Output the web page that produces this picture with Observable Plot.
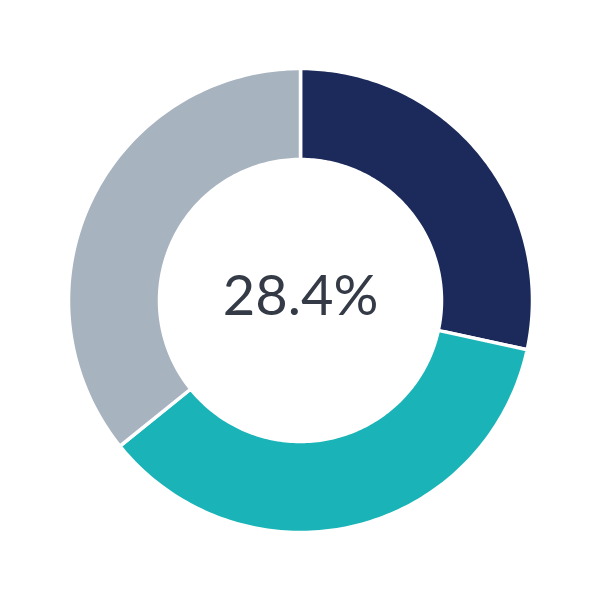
<!DOCTYPE html>
<html>
<head>
<meta charset="utf-8">
<script src="https://cdn.jsdelivr.net/npm/d3@7"></script>
<script src="https://cdn.jsdelivr.net/npm/@observablehq/plot@0.6"></script>
<style>
  html, body { margin: 0; padding: 0; background: #fff; }
</style>
</head>
<body>
<div id="chart"></div>
<script>
const categories = ["A", "B", "C"];
const values = [28.4, 35.8, 35.8];
const colors = ["#1b2a5a", "#1ab4b8", "#a8b3c0"];
const centerLabel = "28.4%";

const outerR = 232, innerR = 141;
const total = d3.sum(values);
const pts = [];
let start = 0;
categories.forEach((c, i) => {
  const a0 = start / total * 2 * Math.PI;
  const a1 = (start + values[i]) / total * 2 * Math.PI;
  start += values[i];
  const n = 120;
  for (let k = 0; k <= n; k++) {
    const a = a0 + (a1 - a0) * k / n;
    pts.push({cat: c, x: outerR * Math.sin(a), y: outerR * Math.cos(a)});
  }
  for (let k = n; k >= 0; k--) {
    const a = a0 + (a1 - a0) * k / n;
    pts.push({cat: c, x: innerR * Math.sin(a), y: innerR * Math.cos(a)});
  }
});

const chart = Plot.plot({
  width: 600,
  height: 600,
  margin: 0,
  x: {domain: [-300, 300], axis: null},
  y: {domain: [-300, 300], axis: null},
  color: {domain: categories, range: colors},
  marks: [
    Plot.line(pts, {x: "x", y: "y", z: "cat", fill: "cat", stroke: "white", strokeWidth: 3.5, curve: "linear-closed"}),
    Plot.text([centerLabel], {x: () => 0, y: () => 0, text: d => d, fontSize: 56, fill: "#343a46", fontFamily: "Lato", fontWeight: 400, dy: -3})
  ]
});
document.getElementById("chart").appendChild(chart);
</script>
</body>
</html>
